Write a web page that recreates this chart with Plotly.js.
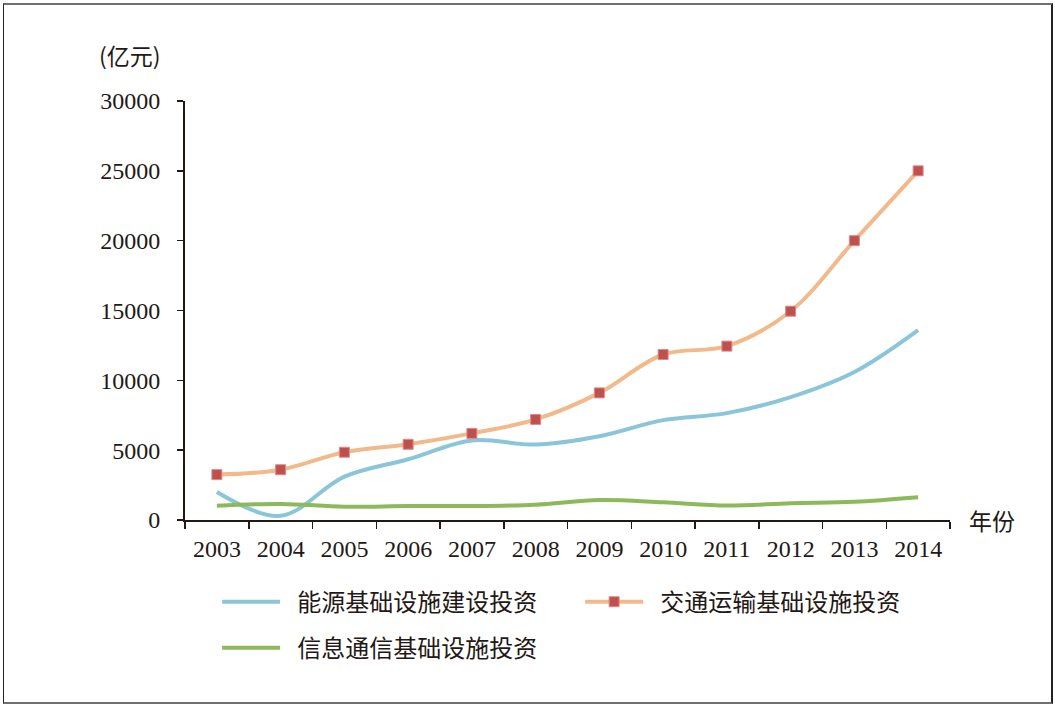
<!DOCTYPE html>
<html>
<head>
<meta charset="utf-8">
<script src="https://cdn.plot.ly/plotly-3.0.1.min.js"></script>
<style>
  html, body { margin: 0; padding: 0; background: #fff; }
  #chart { width: 1055px; height: 708px; }
  #frame {
    position: absolute; left: 3px; top: 3px; width: 1047px; height: 697px;
    border-top: 2px solid #6f6f6f; border-bottom: 2px solid #6f6f6f;
    border-left: 1px solid #222; border-right: 2px solid #222;
    pointer-events: none;
  }
</style>
</head>
<body>
<div id="chart"></div>
<div id="frame"></div>
<script>
// 年份
const years = ['2003', '2004', '2005', '2006', '2007', '2008', '2009', '2010', '2011', '2012', '2013', '2014'];

// 投资额（亿元）
const energy    = [2000, 300, 3100, 4350, 5700, 5400, 6000, 7150, 7650, 8800, 10600, 13600];
const transport = [3250, 3600, 4850, 5420, 6200, 7200, 9100, 11850, 12450, 14950, 20000, 25000];
const telecom   = [1020, 1150, 950, 1000, 1000, 1100, 1430, 1270, 1040, 1200, 1300, 1625];

const seriesNames = ['能源基础设施建设投资', '交通运输基础设施投资', '信息通信基础设施投资'];
const yTicks = [0, 5000, 10000, 15000, 20000, 25000, 30000];

const ink = '#231815';
const serif = '"Liberation Serif", "Times New Roman", serif';
const cjk = '"Noto Sans CJK SC", "Liberation Serif", serif';
const pad = '\u2002';

const traces = [
  {
    x: years, y: energy, name: pad + seriesNames[0], type: 'scatter', mode: 'lines',
    line: { color: '#8AC5D9', width: 4, shape: 'spline', smoothing: 1 },
    legend: 'legend'
  },
  {
    x: years, y: transport, name: pad + seriesNames[1], type: 'scatter', mode: 'lines+markers',
    line: { color: '#F2BA8A', width: 4, shape: 'spline', smoothing: 1 },
    marker: { symbol: 'square', size: 10, color: '#C0504D', line: { color: '#D98C8A', width: 1 } },
    legend: 'legend'
  },
  {
    x: years, y: telecom, name: pad + seriesNames[2], type: 'scatter', mode: 'lines',
    line: { color: '#8DB95A', width: 4, shape: 'spline', smoothing: 1 },
    legend: 'legend2'
  }
];

const legendCommon = {
  orientation: 'h',
  xanchor: 'left', yanchor: 'middle',
  font: { family: cjk, size: 24, color: ink },
  itemwidth: 58,
  entrywidth: 290, entrywidthmode: 'pixels',
  bgcolor: 'rgba(0,0,0,0)',
  itemclick: false, itemdoubleclick: false
};

const layout = {
  width: 1055, height: 708,
  margin: { l: 185, r: 105, t: 101, b: 188 },
  paper_bgcolor: '#fff', plot_bgcolor: '#fff',
  showlegend: true,
  legend: Object.assign({}, legendCommon, { x: 0.042, y: -0.196 }),
  legend2: Object.assign({}, legendCommon, { x: 0.042, y: -0.306 }),
  xaxis: {
    type: 'category',
    range: [-0.5, years.length - 0.5],
    showline: true, linecolor: ink, linewidth: 2,
    ticks: 'outside', tickson: 'boundaries', ticklen: 7, tickcolor: ink, tickwidth: 1.5,
    tickfont: { family: serif, size: 24, color: ink },
    ticklabelstandoff: 6,
    showgrid: false, zeroline: false, fixedrange: true
  },
  yaxis: {
    range: [0, 30000],
    tickvals: yTicks,
    ticktext: yTicks.map(String),
    showline: true, linecolor: ink, linewidth: 2,
    ticks: 'outside', ticklen: 6, tickcolor: ink, tickwidth: 1.5,
    tickfont: { family: serif, size: 24, color: ink },
    ticklabelstandoff: 12,
    showgrid: false, zeroline: false, fixedrange: true
  },
  annotations: [
    {
      text: '(亿元)', xref: 'paper', yref: 'paper',
      x: -0.072, y: 1.11, xanchor: 'center', yanchor: 'middle',
      showarrow: false, font: { family: cjk, size: 23, color: ink }
    },
    {
      text: '年份', xref: 'paper', yref: 'paper',
      x: 1.022, y: 0.0, xanchor: 'left', yanchor: 'middle',
      showarrow: false, font: { family: cjk, size: 23, color: ink }
    }
  ]
};

Plotly.newPlot('chart', traces, layout, { displayModeBar: false, staticPlot: true });
</script>
</body>
</html>
